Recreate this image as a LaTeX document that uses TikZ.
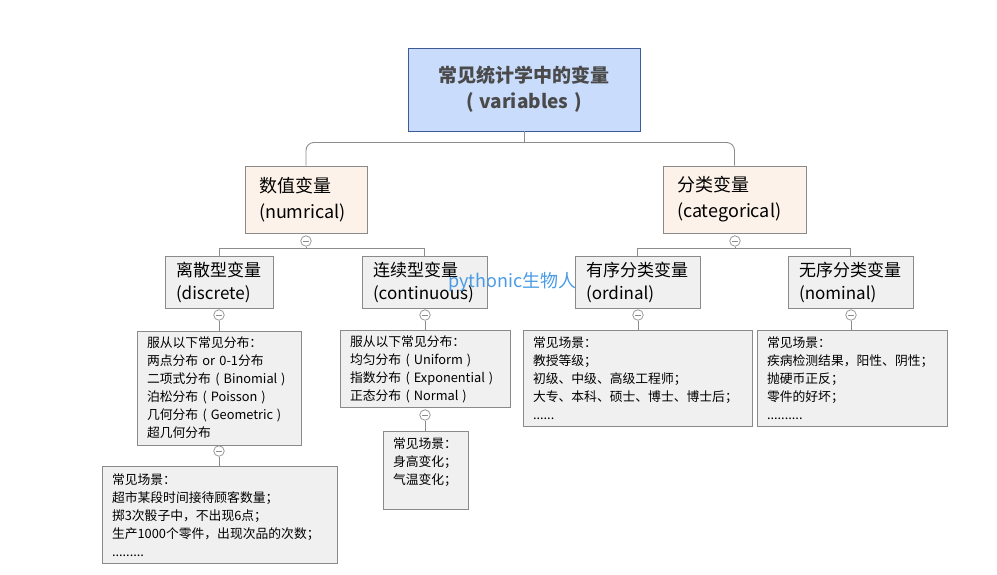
\documentclass[tikz,border=0pt]{standalone}
\usepackage{fontspec}
\setmainfont{Noto Sans CJK SC}
\newcommand{\lpar}{\hspace{0.35em}(\hspace{0.3em}}
\newcommand{\rpar}{\hspace{0.3em})}
\definecolor{linegray}{HTML}{8C8C8C}
\definecolor{boxborder}{HTML}{8A8A8A}
\definecolor{boxfill}{HTML}{F0F0F0}
\definecolor{orangefill}{HTML}{FDF2E9}
\definecolor{rootfill}{HTML}{C9DCFC}
\definecolor{rootborder}{HTML}{3D5A99}
\definecolor{roottext}{HTML}{4A4A4A}
\definecolor{wmblue}{HTML}{4A9BE6}
\tikzset{
  conn/.style={draw=linegray, line width=0.9pt},
  rootbox/.style={draw=rootborder, fill=rootfill, line width=0.9pt, align=center,
    text=roottext, font=\fontsize{19}{26}\selectfont\bfseries},
  anybox/.style={draw=boxborder, line width=0.9pt, align=left, text=black},
  boxtwo/.style={anybox, fill=orangefill, font=\fontsize{18}{26}\selectfont, inner xsep=14pt},
  boxthree/.style={anybox, fill=boxfill, font=\fontsize{17}{23}\selectfont, inner xsep=11pt},
  infobox/.style={anybox, fill=boxfill, font=\fontsize{12.8}{18}\selectfont, inner xsep=10pt},
  minus/.style={circle, draw=linegray, fill=white, line width=0.7pt, minimum size=10.5pt, inner sep=0pt,
    path picture={\draw[linegray, line width=0.7pt] ([xshift=-2.8pt]path picture bounding box.center) -- ([xshift=2.8pt]path picture bounding box.center);}}
}
\begin{document}
\begin{tikzpicture}[x=1pt, y=-1pt]
\useasboundingbox (0,0) rectangle (997,574);
% root
\node[rootbox, minimum width=232pt, minimum height=83pt] (root) at (524,89.5) {常见统计学中的变量\\(\hspace{0.3em}variables\hspace{0.3em})};
% level 2
\node[boxtwo, minimum height=67pt, text width=94pt] (num) at (306,199.5) {数值变量\\(numrical)};
\node[boxtwo, minimum height=67pt, text width=115pt] (cat) at (734.5,199.5) {分类变量\\(categorical)};
% level 3
\node[boxthree, minimum height=52pt, text width=86pt] (disc) at (219,282) {离散型变量\\(discrete)};
\node[boxthree, minimum height=52pt, text width=103pt] (cont) at (424.5,282) {连续型变量\\(continuous)};
\node[boxthree, minimum height=52pt, text width=103pt] (ord) at (637.5,282) {有序分类变量\\(ordinal)};
\node[boxthree, minimum height=52pt, text width=103pt] (nom) at (850.5,282) {无序分类变量\\(nominal)};
% info boxes
\node[infobox, minimum height=114pt, text width=144pt] (dist1) at (219,388) {服从以下常见分布：\\两点分布 or 0-1分布\\二项式分布\lpar Binomial\rpar\\泊松分布\lpar Poisson\rpar\\几何分布\lpar Geometric\rpar\\超几何分布};
\node[infobox, minimum height=77pt, text width=150pt] (dist2) at (425,369) {服从以下常见分布：\\均匀分布\lpar Uniform\rpar\\指数分布\lpar Exponential\rpar\\正态分布\lpar Normal\rpar};
\node[infobox, minimum height=96pt, text width=209pt] (ordsc) at (637.5,378.5) {常见场景：\\教授等级；\\初级、中级、高级工程师；\\大专、本科、硕士、博士、博士后；\\......};
\node[infobox, minimum height=96pt, text width=170pt] (nomsc) at (852,378.5) {常见场景：\\疾病检测结果，阳性、阴性；\\抛硬币正反；\\零件的好坏；\\..........};
\node[infobox, minimum height=97pt, text width=215pt] (sc1) at (219.5,515) {常见场景：\\超市某段时间接待顾客数量；\\掷3次骰子中，不出现6点；\\生产1000个零件，出现次品的次数；\\.........};
\node[infobox, minimum height=78pt, text width=65pt] (sc2) at (425.5,470.5) {常见场景：\\身高变化；\\气温变化；\\~};
% collapse markers
\node[minus] (m1) at (306,241) {};
\node[minus] (m2) at (735,241) {};
\node[minus] (m3) at (219,315) {};
\node[minus] (m4) at (425,315) {};
\node[minus] (m5) at (638,315) {};
\node[minus] (m6) at (851,315) {};
\node[minus] (m7) at (219,451) {};
\node[minus] (m8) at (425,415) {};
% connectors
\draw[conn] (root.south) -- ++(0,11) coordinate (j0);
\draw[conn, rounded corners=8pt] (j0) -| (num.north);
\draw[conn, rounded corners=8pt] (j0) -| (cat.north);
\draw[conn] (m1.south) -- ++(0,2) coordinate (j1);
\draw[conn] (j1) -| (disc.north);
\draw[conn] (j1) -| (cont.north);
\draw[conn] (m2.south) -- ++(0,2) coordinate (j2);
\draw[conn] (j2) -| (ord.north);
\draw[conn] (j2) -| (nom.north);
\draw[conn] (m3.south) -- (dist1.north);
\draw[conn] (m4.south) -- (dist2.north);
\draw[conn] (m5.south) -- (m5.south |- ordsc.north);
\draw[conn] (m6.south) -- (m6.south |- nomsc.north);
\draw[conn] (m7.south) -- (m7.south |- sc1.north);
\draw[conn] (m8.south) -- (m8.south |- sc2.north);
% watermark
\node[anchor=west, text=wmblue, font=\fontsize{18}{18}\selectfont, inner sep=0pt] (wm) at (448,282) {pythonic生物人};
\end{tikzpicture}
\end{document}
